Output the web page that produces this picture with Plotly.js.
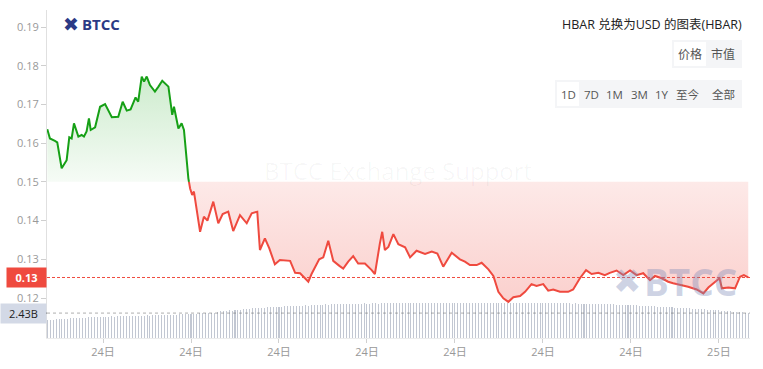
<!DOCTYPE html>
<html><head><meta charset="utf-8">
<script src="https://cdn.plot.ly/plotly-3.0.1.min.js"></script>
<style>html,body{margin:0;padding:0;background:#fff}#chart{width:763px;height:369px}</style>
</head><body><div id="chart"></div>
<script>
// ---- data (hours since 00:00 of the 24th) ----
const hours = [1.10,1.19,1.36,1.44,1.59,1.76,1.85,1.93,2.01,2.16,2.27,2.35,2.44,2.52,2.58,2.73,2.90,3.07,3.30,3.52,
3.67,3.81,3.94,4.11,4.20,4.32,4.40,4.49,4.60,4.77,4.89,5.02,5.23,5.36,5.42,5.57,5.68,5.76,5.91,5.97,
6.04,6.10,6.31,6.44,6.56,6.76,6.93,7.08,7.27,7.44,7.67,7.90,8.07,8.26,8.35,8.52,8.67,8.86,9.03,9.38,
9.55,9.72,10.00,10.11,10.37,10.51,10.68,10.85,11.06,11.19,11.36,11.53,11.70,11.93,12.16,12.27,12.44,12.52,12.61,12.73,
12.90,13.07,13.30,13.47,13.69,13.98,14.21,14.40,14.60,14.89,15.17,15.34,15.51,15.74,15.91,16.14,16.31,16.48,16.65,16.82,
16.99,17.22,17.39,17.61,17.78,18.01,18.18,18.35,18.58,18.86,19.03,19.26,19.47,19.66,19.89,20.11,20.28,20.51,20.74,20.97,
21.19,21.42,21.65,21.82,22.05,22.27,22.44,22.67,22.95,23.24,23.47,23.64,23.81,24.02,24.10,24.32,24.55,24.72,24.85,25.00];
const prices = [0.1636,0.1612,0.1606,0.1602,0.1535,0.1556,0.1615,0.1612,0.1651,0.1617,0.1621,0.1617,0.1630,0.1664,0.1634,0.1641,0.1694,0.1701,0.1667,0.1668,
0.1707,0.1684,0.1687,0.1718,0.1707,0.1772,0.1759,0.1772,0.1750,0.1733,0.1746,0.1761,0.1746,0.1673,0.1694,0.1638,0.1651,0.1634,0.1509,0.1483,
0.1466,0.1475,0.1371,0.1410,0.1400,0.1449,0.1393,0.1417,0.1423,0.1373,0.1414,0.1393,0.1419,0.1423,0.1324,0.1354,0.1328,0.1287,0.1298,0.1296,
0.1265,0.1264,0.1242,0.1262,0.1300,0.1305,0.1348,0.1296,0.1283,0.1276,0.1294,0.1308,0.1289,0.1289,0.1272,0.1262,0.1341,0.1371,0.1324,0.1332,
0.1365,0.1339,0.1331,0.1305,0.1322,0.1314,0.1320,0.1315,0.1281,0.1317,0.1300,0.1294,0.1285,0.1285,0.1291,0.1274,0.1257,0.1216,0.1199,0.1190,
0.1202,0.1205,0.1216,0.1236,0.1231,0.1236,0.1219,0.1222,0.1216,0.1216,0.1222,0.1251,0.1272,0.1262,0.1265,0.1259,0.1265,0.1271,0.1259,0.1271,
0.1259,0.1264,0.1246,0.1257,0.1251,0.1242,0.1238,0.1234,0.1229,0.1222,0.1212,0.1227,0.1238,0.1251,0.1225,0.1227,0.1225,0.1255,0.1259,0.1253];
const volStartHour = 1.1, volStepHour = 0.1;   // one volume bar every 0.1 h
const volumesB = [
1.76,1.79,1.80,1.84,1.85,1.86,1.89,1.90,1.93,1.92,1.95,1.98,1.97,2.00,2.02,2.01,2.04,2.03,2.06,2.05,
2.07,2.08,2.10,2.09,2.12,2.11,2.13,2.15,2.14,2.16,2.15,2.18,2.17,2.19,2.20,2.18,2.21,2.22,2.20,2.23,
2.24,2.25,2.27,2.26,2.29,2.30,2.31,2.33,2.32,2.35,2.36,2.38,2.40,2.41,2.43,2.44,2.46,2.48,2.55,2.60,
2.62,2.66,2.70,2.68,2.74,2.78,2.76,2.82,2.85,2.84,2.88,2.90,2.92,2.95,2.93,2.98,3.00,3.02,3.01,3.05,
3.06,3.08,3.10,3.09,3.12,3.14,3.13,3.16,3.18,3.17,3.20,3.22,3.21,3.24,3.25,3.27,3.26,3.28,3.30,3.31,
3.32,3.33,3.34,3.33,3.35,3.36,3.34,3.36,3.37,3.35,3.36,3.38,3.37,3.36,3.38,3.39,3.37,3.38,3.39,3.38,
3.39,3.38,3.40,3.39,3.38,3.40,3.41,3.39,3.40,3.38,3.39,3.41,3.40,3.39,3.40,3.41,3.39,3.40,3.42,3.40,
3.41,3.40,3.39,3.41,3.40,3.42,3.41,3.40,3.41,3.39,3.40,3.42,3.41,3.40,3.39,3.41,3.40,3.42,3.41,3.40,
3.40,3.41,3.39,3.40,3.41,3.40,3.38,3.40,3.39,3.41,3.40,3.39,3.38,3.40,3.39,3.38,3.39,3.37,3.38,3.36,
3.37,3.36,3.35,3.36,3.34,3.33,3.34,3.32,3.31,3.30,3.31,3.29,3.28,3.27,3.26,3.25,3.24,3.23,3.22,3.20,
3.19,3.18,3.16,3.15,3.13,3.12,3.10,3.09,3.07,3.06,3.04,3.02,3.01,2.99,2.97,2.96,2.94,2.92,2.91,2.89,
2.87,2.85,2.83,2.81,2.79,2.77,2.75,2.73,2.71,2.69,2.67,2.65,2.62,2.60,2.57,2.55,2.52,2.50,2.47,2.45];
const baseline = 0.15;
const tickHours = [3,6,9,12,15,18,21,24];
const tickLabels = ['24日','24日','24日','24日','24日','24日','24日','25日'];
const yTicks = [0.12,0.13,0.14,0.15,0.16,0.17,0.18,0.19];
const lastPriceLabel = '0.13';
const lastVolume = 2.43, lastVolumeLabel = '2.43B';
const titleText = 'HBAR 兑换为USD 的图表(HBAR)';
const modeButtons = ['价格','市值'];
const rangeButtons = ['1D','7D','1M','3M','1Y','至今','全部'];

// ---- derived series ----
const xs = [], ys = [];
for (let i = 0; i < prices.length; i++) {
  if (i > 0) {
    const a = prices[i-1]-baseline, b = prices[i]-baseline;
    if (a*b < 0) { const t = a/(a-b); xs.push(hours[i-1]+t*(hours[i]-hours[i-1])); ys.push(baseline); }
  }
  xs.push(hours[i]); ys.push(prices[i]);
}
const upY = ys.map(v => Math.max(v, baseline));
const dnY = ys.map(v => Math.min(v, baseline));
const greenLine = ys.map(v => v >= baseline ? v : null);
const redLine = ys.map(v => v <= baseline ? v : null);
const base = xs.map(() => baseline);
const volX = volumesB.map((v, i) => volStartHour + i*volStepHour);
const lastPrice = prices[prices.length-1];

const GREEN = '#16a016', RED = '#ef4a3f';
const FONT = "'Open Sans','Noto Sans CJK SC',sans-serif";

const traces = [
  {type:'bar', x:volX, y:volumesB, yaxis:'y2', width:0.035, marker:{color:'#c2c7d2', line:{width:0}}, hoverinfo:'skip'},
  {type:'scatter', mode:'lines', x:xs, y:base, line:{width:0}, hoverinfo:'skip'},
  {type:'scatter', mode:'lines', x:xs, y:upY, line:{width:0}, fill:'tonexty',
   fillgradient:{type:'vertical', start:0.15, stop:0.178, colorscale:[[0,'rgba(26,165,26,0.04)'],[1,'rgba(26,165,26,0.22)']]}, hoverinfo:'skip'},
  {type:'scatter', mode:'lines', x:xs, y:base, line:{width:0}, hoverinfo:'skip'},
  {type:'scatter', mode:'lines', x:xs, y:dnY, line:{width:0}, fill:'tonexty',
   fillgradient:{type:'vertical', start:0.119, stop:0.15, colorscale:[[0,'rgba(239,74,63,0.26)'],[1,'rgba(239,74,63,0.12)']]}, hoverinfo:'skip'},
  {type:'scatter', mode:'lines', x:xs, y:greenLine, line:{color:GREEN, width:2}, connectgaps:false, hoverinfo:'skip'},
  {type:'scatter', mode:'lines', x:xs, y:redLine, line:{color:RED, width:2}, connectgaps:false, hoverinfo:'skip'}
];

const L = 47, R = 750, T = 10, B = 338;
const px = p => (p - L)/(R - L);
const py = p => (B - p)/(B - T);
const ann = (x, y, text, font, xa) => ({xref:'paper', yref:'paper', x:px(x), y:py(y), xanchor:xa||'center', yanchor:'middle',
  text:text, showarrow:false, font:font});

const annotations = [
  ann(398, 170, 'BTCC Exchange Support', {family:FONT, size:24, color:'rgba(0,0,0,0.035)'}),
  ann(627, 281, '✖', {family:'DejaVu Sans', size:34, color:'rgba(125,138,185,0.38)'}),
  ann(642, 281, '<b>BTCC</b>', {family:FONT, size:37, color:'rgba(125,138,185,0.38)'}, 'left'),
  ann(81, 24, '✖', {family:'DejaVu Sans', size:19, color:'#2b3a85'}, 'right'),
  ann(80, 24, '<b>BTCC</b>', {family:FONT, size:15, color:'#2b3a85'}, 'left'),
  ann(744, 24, titleText, {family:FONT, size:12.5, color:'#222'}, 'right'),
  {xref:'paper', yref:'y', x:0, xanchor:'right', yanchor:'middle', y:lastPrice, text:'<b>'+lastPriceLabel+'</b>', showarrow:false,
   bgcolor:RED, width:37, height:17, borderpad:1, font:{family:FONT, size:11, color:'#fff'}},
  {xref:'paper', yref:'y2', x:0, xanchor:'right', yanchor:'middle', y:lastVolume, text:lastVolumeLabel, showarrow:false,
   bgcolor:'#d3d9e6', width:43, height:17, borderpad:1, font:{family:FONT, size:11, color:'#222'}}
];
const modeX = [690, 723];
modeButtons.forEach((t,i) => annotations.push(ann(modeX[i], 54, t, {family:FONT, size:12, color:'#555'})));
const rangeX = [568, 591, 614, 639, 662, 688, 723];
rangeButtons.forEach((t,i) => annotations.push(ann(rangeX[i], 94, t, {family:FONT, size:11.5, color:'#555'})));

const rect = (x0,y0,x1,y1,c) => ({type:'rect', xref:'paper', yref:'paper', x0:px(x0), x1:px(x1), y0:py(y1), y1:py(y0),
  fillcolor:c, line:{width:0}, layer:'below'});
const shapes = [
  rect(672,40,742,68,'#f4f5f7'), rect(674,42,706,66,'#ffffff'),
  rect(555,80,742,108,'#f4f5f7'), rect(557,82,579,106,'#ffffff'),
  {type:'line', xref:'paper', x0:0, x1:1, yref:'y', y0:lastPrice, y1:lastPrice, line:{color:RED, width:1, dash:'3px,2px'}},
  {type:'line', xref:'paper', x0:0, x1:1, yref:'y2', y0:lastVolume, y1:lastVolume, line:{color:'rgba(110,110,110,0.55)', width:1, dash:'3px,3px'}},
  {type:'line', xref:'paper', x0:-5/703, x1:0, yref:'y2', y0:lastVolume, y1:lastVolume, line:{color:'#222', width:1}}
];

const layout = {
  width:763, height:369,
  margin:{l:L, r:763-R, t:T, b:369-B, pad:0},
  paper_bgcolor:'#fff', plot_bgcolor:'rgba(0,0,0,0)',
  showlegend:false, bargap:0,
  font:{family:FONT},
  xaxis:{range:[1.09,25.06], tickvals:tickHours, ticktext:tickLabels, showgrid:false, zeroline:false,
    showline:true, linecolor:'#ececec', ticks:'outside', ticklen:4, tickcolor:'#d0d0d0',
    tickfont:{family:FONT, size:11, color:'#999'}},
  yaxis:{range:[0.10967,0.19439], tickvals:yTicks, tickformat:'.2f', showgrid:false, zeroline:false,
    showline:true, linecolor:'#e0e0e0', ticks:'outside', ticklen:5, tickcolor:'#cfcfcf',
    tickfont:{family:FONT, size:11, color:'#999'}},
  yaxis2:{overlaying:'y', range:[0,32], visible:false},
  annotations:annotations, shapes:shapes
};
Plotly.newPlot('chart', traces, layout, {staticPlot:true, displayModeBar:false});
</script></body></html>
